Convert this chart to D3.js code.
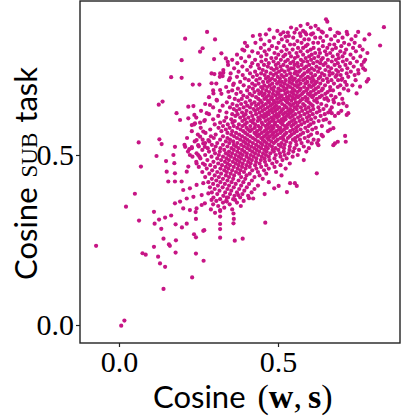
<!DOCTYPE html>
<html>
<head>
<meta charset="utf-8">
<script src="https://cdn.jsdelivr.net/npm/d3@7"></script>
<style>
  body { margin: 0; background: #fff; }
  .tick text { font-family: "Liberation Serif", serif; font-size: 30px; fill: #000; }
  .tick line { stroke: #222; stroke-width: 1.2; }
  .lbl { font-family: Lato, sans-serif; font-size: 31px; fill: #000; }
  .math { font-family: "Liberation Serif", serif; font-size: 34px; }
</style>
</head>
<body>
<svg id="chart"></svg>
<script>
// isolated points read one by one: [cosine(w,s), cosine SUB task]
const outliers = [
  [-0.072,0.233],[0.007,-0.002],[0.017,0.013],[0.022,0.348],[0.050,0.386],[0.063,0.307],[0.062,0.537],[0.069,0.466],
  [0.074,0.211],[0.084,0.207],[0.110,0.333],[0.112,0.298],[0.110,0.230],[0.118,0.497],[0.123,0.201],[0.126,0.310],
  [0.125,0.648],[0.127,0.546],[0.129,0.181],[0.133,0.283],[0.134,0.532],[0.137,0.657],[0.140,0.254],[0.140,0.106],
  [0.145,0.316],[0.145,0.171],[0.148,0.482],[0.150,0.451],[0.155,0.422],[0.157,0.237],[0.160,0.233],[0.164,0.322],
  [0.164,0.729],[0.171,0.500],[0.174,0.476],[0.176,0.524],[0.176,0.446],[0.176,0.422],[0.176,0.358],[0.178,0.296],
  [0.178,0.213],[0.179,0.249],[0.181,0.623],[0.192,0.603],[0.192,0.363],[0.197,0.779],[0.197,0.727],[0.197,0.422],
  [0.198,0.287],[0.202,0.397],[0.202,0.343],[0.208,0.842],[0.208,0.524],[0.213,0.298],[0.213,0.451],[0.213,0.372],
  [0.218,0.642],[0.218,0.608],[0.218,0.466],[0.221,0.517],[0.223,0.500],[0.223,0.402],[0.223,0.338],[0.229,0.588],
  [0.229,0.523],[0.230,0.140],[0.232,0.707],[0.234,0.644],[0.234,0.377],[0.236,0.267],[0.237,0.618],[0.239,0.593],
  [0.241,0.332],[0.242,0.312],[0.242,0.258],[0.242,0.210],[0.244,0.544],[0.244,0.475],[0.244,0.412],[0.244,0.343],
  [0.249,0.529],[0.249,0.500],[0.253,0.707],[0.253,0.495],[0.255,0.804],[0.255,0.595],[0.255,0.554],[0.260,0.382],
  [0.260,0.353],[0.263,0.814],[0.265,0.569],[0.265,0.534],[0.265,0.417],[0.265,0.277],[0.266,0.189],[0.268,0.279],
  [0.270,0.603],[0.270,0.524],[0.270,0.471],[0.270,0.358],[0.276,0.623],[0.277,0.862],[0.281,0.544],[0.281,0.387],
  [0.286,0.647],[0.291,0.740],[0.291,0.711],[0.291,0.368],[0.297,0.681],[0.299,0.782],[0.300,0.738],[0.302,0.840],
  [0.307,0.662],[0.318,0.740],[0.318,0.691],[0.318,0.338],[0.318,0.319],[0.318,0.297],[0.318,0.282],[0.318,0.257],
  [0.322,0.799],[0.326,0.732],[0.328,0.742],[0.336,0.784],[0.339,0.375],[0.339,0.363],[0.342,0.774],[0.344,0.686],
  [0.349,0.726],[0.359,0.706],[0.360,0.328],[0.360,0.299],[0.361,0.312],[0.364,0.248],[0.365,0.368],[0.375,0.382],
  [0.389,0.254],[0.394,0.807],[0.396,0.830],[0.409,0.373],[0.422,0.372],[0.443,0.853],[0.458,0.385],[0.460,0.301],
  [0.473,0.869],[0.488,0.402],[0.502,0.409],[0.517,0.861],[0.524,0.848],[0.528,0.391],[0.538,0.417],[0.553,0.417],
  [0.559,0.409],[0.569,0.858],[0.585,0.861],[0.604,0.855],[0.606,0.534],[0.610,0.858],[0.622,0.446],[0.627,0.544],
  [0.627,0.529],[0.637,0.863],[0.637,0.559],[0.643,0.603],[0.651,0.899],[0.653,0.667],[0.655,0.892],[0.664,0.575],
  [0.664,0.632],[0.664,0.691],[0.669,0.623],[0.674,0.529],[0.674,0.579],[0.674,0.662],[0.679,0.534],[0.685,0.735],
  [0.688,0.539],[0.690,0.623],[0.692,0.858],[0.700,0.721],[0.705,0.652],[0.711,0.556],[0.713,0.539],[0.716,0.618],
  [0.716,0.644],[0.716,0.706],[0.716,0.862],[0.721,0.623],[0.747,0.681],[0.752,0.862],[0.753,0.740],[0.758,0.701],
  [0.768,0.755],[0.770,0.774],[0.774,0.750],[0.779,0.716],[0.784,0.723],[0.787,0.855],[0.821,0.822],[0.833,0.876]
];

// dense cloud, read in thin horizontal strips: [cosine SUB task, [cosine(w,s) ...]]
const coreRows = [
  [0.885,[0.593]],
  [0.880,[0.571,0.618]],
  [0.875,[0.541,0.603]],
  [0.870,[0.558,0.627,0.664]],
  [0.865,[0.498,0.579]],
  [0.860,[0.531,0.552,0.641,0.687]],
  [0.855,[0.462,0.508,0.589,0.606,0.718]],
  [0.850,[0.421,0.534,0.571,0.653,0.679,0.744]],
  [0.845,[0.487,0.548,0.617,0.633,0.703]],
  [0.840,[0.446,0.512,0.583,0.597,0.667,0.731,0.772]],
  [0.835,[0.473,0.529,0.561,0.642,0.689]],
  [0.830,[0.429,0.502,0.574,0.611,0.626,0.708,0.741]],
  [0.825,[0.457,0.538,0.551,0.593,0.662,0.677,0.723]],
  [0.820,[0.403,0.481,0.519,0.587,0.641,0.699,0.757]],
  [0.815,[0.446,0.496,0.563,0.579,0.612,0.655,0.682,0.736]],
  [0.810,[0.388,0.472,0.527,0.546,0.603,0.629,0.671,0.714,0.766]],
  [0.805,[0.419,0.458,0.511,0.571,0.593,0.648,0.696,0.745]],
  [0.800,[0.437,0.489,0.536,0.558,0.617,0.632,0.664,0.709,0.781]],
  [0.795,[0.371,0.464,0.501,0.523,0.579,0.606,0.653,0.688,0.728]],
  [0.790,[0.409,0.447,0.517,0.541,0.562,0.598,0.627,0.672,0.703,0.759]],
  [0.785,[0.384,0.479,0.494,0.553,0.587,0.614,0.641,0.691,0.737]],
  [0.780,[0.356,0.428,0.462,0.509,0.531,0.572,0.604,0.636,0.657,0.682,0.716,0.774]],
  [0.775,[0.397,0.448,0.486,0.523,0.548,0.579,0.592,0.623,0.669,0.704,0.748]],
  [0.770,[0.372,0.419,0.471,0.501,0.539,0.561,0.611,0.633,0.649,0.688,0.727]],
  [0.765,[0.343,0.437,0.456,0.493,0.517,0.552,0.574,0.598,0.643,0.678,0.712,0.763]],
  [0.760,[0.388,0.414,0.468,0.508,0.529,0.563,0.589,0.621,0.657,0.694,0.738]],
  [0.755,[0.362,0.441,0.479,0.496,0.541,0.549,0.582,0.606,0.631,0.667,0.718]],
  [0.750,[0.328,0.403,0.452,0.487,0.512,0.533,0.571,0.597,0.614,0.649,0.683,0.701,0.752]],
  [0.745,[0.376,0.428,0.463,0.503,0.521,0.556,0.566,0.593,0.626,0.661,0.689,0.729]],
  [0.740,[0.351,0.412,0.447,0.477,0.494,0.538,0.552,0.583,0.604,0.638,0.672,0.716]],
  [0.735,[0.389,0.434,0.458,0.486,0.511,0.527,0.561,0.578,0.617,0.646,0.662,0.697,0.741]],
  [0.730,[0.317,0.371,0.421,0.469,0.499,0.518,0.543,0.572,0.594,0.609,0.633,0.681,0.721]],
  [0.725,[0.396,0.443,0.462,0.481,0.506,0.537,0.553,0.586,0.601,0.628,0.654,0.702]],
  [0.720,[0.346,0.408,0.432,0.474,0.491,0.524,0.547,0.566,0.579,0.612,0.641,0.668,0.689,0.744]],
  [0.715,[0.381,0.453,0.468,0.503,0.512,0.536,0.559,0.592,0.606,0.622,0.657,0.711]],
  [0.710,[0.306,0.361,0.419,0.439,0.482,0.497,0.521,0.544,0.571,0.586,0.617,0.633,0.676]],
  [0.705,[0.392,0.428,0.457,0.474,0.509,0.531,0.553,0.563,0.598,0.611,0.648,0.696,0.734]],
  [0.700,[0.337,0.409,0.447,0.466,0.488,0.517,0.538,0.561,0.582,0.604,0.627,0.664,0.688]],
  [0.695,[0.374,0.421,0.452,0.479,0.501,0.527,0.546,0.571,0.593,0.619,0.641,0.707]],
  [0.690,[0.296,0.356,0.403,0.437,0.463,0.486,0.508,0.519,0.552,0.568,0.589,0.612,0.637,0.673,0.721]],
  [0.685,[0.383,0.426,0.448,0.472,0.497,0.531,0.542,0.561,0.581,0.603,0.628,0.656]],
  [0.680,[0.322,0.369,0.411,0.441,0.458,0.484,0.502,0.523,0.548,0.576,0.594,0.619,0.649,0.694]],
  [0.675,[0.391,0.419,0.452,0.471,0.493,0.512,0.537,0.557,0.569,0.601,0.611,0.638,0.667]],
  [0.670,[0.283,0.347,0.403,0.431,0.463,0.481,0.506,0.528,0.546,0.563,0.586,0.608,0.631,0.681]],
  [0.665,[0.364,0.386,0.438,0.457,0.478,0.497,0.517,0.533,0.553,0.577,0.593,0.622,0.646,0.702]],
  [0.660,[0.308,0.376,0.412,0.444,0.468,0.486,0.509,0.524,0.542,0.571,0.589,0.614,0.658]],
  [0.655,[0.339,0.398,0.426,0.449,0.472,0.491,0.501,0.529,0.556,0.566,0.597,0.623,0.676]],
  [0.650,[0.271,0.357,0.384,0.417,0.439,0.462,0.483,0.513,0.536,0.548,0.579,0.603,0.636,0.691]],
  [0.645,[0.326,0.371,0.403,0.431,0.453,0.476,0.494,0.521,0.541,0.561,0.584,0.609,0.652]],
  [0.640,[0.296,0.349,0.392,0.412,0.446,0.468,0.488,0.504,0.527,0.552,0.572,0.596,0.627,0.669]],
  [0.635,[0.361,0.379,0.423,0.437,0.459,0.481,0.498,0.516,0.538,0.559,0.587,0.611,0.643]],
  [0.630,[0.258,0.317,0.369,0.401,0.428,0.451,0.473,0.491,0.511,0.532,0.547,0.576,0.602,0.631,0.699]],
  [0.625,[0.338,0.387,0.414,0.442,0.466,0.483,0.506,0.523,0.541,0.566,0.593,0.622,0.658]],
  [0.620,[0.283,0.356,0.373,0.398,0.431,0.457,0.471,0.496,0.516,0.534,0.554,0.583,0.609,0.647]],
  [0.615,[0.312,0.366,0.392,0.419,0.447,0.463,0.488,0.503,0.528,0.546,0.571,0.598,0.634,0.679]],
  [0.610,[0.243,0.337,0.381,0.407,0.438,0.456,0.479,0.497,0.519,0.538,0.563,0.591,0.617]],
  [0.605,[0.296,0.353,0.396,0.423,0.443,0.469,0.486,0.511,0.524,0.551,0.577,0.604,0.651]],
  [0.600,[0.268,0.331,0.364,0.388,0.414,0.436,0.461,0.481,0.501,0.517,0.544,0.568,0.593,0.628]],
  [0.595,[0.318,0.357,0.402,0.421,0.449,0.473,0.491,0.509,0.536,0.556,0.583,0.612,0.662]],
  [0.590,[0.236,0.301,0.342,0.377,0.396,0.428,0.452,0.468,0.489,0.514,0.531,0.549,0.573,0.602]],
  [0.585,[0.327,0.361,0.388,0.413,0.438,0.461,0.479,0.498,0.522,0.542,0.563,0.596,0.638]],
  [0.580,[0.257,0.313,0.348,0.372,0.401,0.427,0.446,0.471,0.486,0.507,0.528,0.557,0.586,0.619]],
  [0.575,[0.287,0.336,0.382,0.406,0.418,0.443,0.463,0.481,0.503,0.519,0.547,0.571,0.608]],
  [0.570,[0.229,0.322,0.356,0.391,0.412,0.434,0.457,0.476,0.494,0.512,0.538,0.559,0.593,0.657]],
  [0.565,[0.272,0.341,0.368,0.397,0.426,0.449,0.468,0.486,0.507,0.526,0.551,0.579,0.623]],
  [0.560,[0.248,0.304,0.353,0.378,0.404,0.431,0.441,0.463,0.482,0.498,0.521,0.543,0.571,0.604]],
  [0.555,[0.289,0.327,0.362,0.387,0.413,0.436,0.456,0.474,0.491,0.516,0.537,0.562,0.596,0.641]],
  [0.550,[0.214,0.298,0.341,0.371,0.396,0.421,0.447,0.466,0.485,0.508,0.531,0.554,0.584]],
  [0.545,[0.263,0.318,0.349,0.381,0.403,0.428,0.452,0.471,0.499,0.517,0.547,0.569,0.612]],
  [0.540,[0.238,0.284,0.336,0.359,0.391,0.411,0.437,0.458,0.479,0.493,0.526,0.556,0.594]],
  [0.535,[0.271,0.309,0.347,0.372,0.398,0.421,0.446,0.464,0.487,0.511,0.539,0.574,0.623]],
  [0.530,[0.206,0.292,0.327,0.361,0.384,0.406,0.431,0.451,0.473,0.502,0.521,0.558]],
  [0.525,[0.251,0.304,0.341,0.368,0.393,0.416,0.439,0.462,0.481,0.509,0.537,0.581]],
  [0.520,[0.229,0.279,0.319,0.354,0.376,0.403,0.426,0.447,0.468,0.492,0.519,0.552,0.597]],
  [0.515,[0.262,0.298,0.331,0.361,0.387,0.411,0.433,0.457,0.483,0.501,0.536,0.566]],
  [0.510,[0.217,0.283,0.317,0.346,0.372,0.394,0.419,0.441,0.464,0.487,0.518,0.548,0.589]],
  [0.505,[0.244,0.302,0.336,0.356,0.381,0.402,0.428,0.453,0.476,0.506,0.533]],
  [0.500,[0.271,0.314,0.344,0.367,0.389,0.414,0.438,0.462,0.493,0.521,0.562]],
  [0.495,[0.231,0.291,0.327,0.352,0.377,0.401,0.423,0.449,0.471,0.508,0.546]],
  [0.490,[0.256,0.309,0.338,0.363,0.384,0.409,0.432,0.458,0.489,0.527]],
  [0.485,[0.278,0.321,0.346,0.371,0.394,0.418,0.446,0.473,0.514,0.581]],
  [0.480,[0.243,0.297,0.333,0.358,0.379,0.406,0.431,0.459,0.496]],
  [0.475,[0.264,0.312,0.341,0.367,0.389,0.414,0.442,0.482,0.537]],
  [0.470,[0.287,0.324,0.349,0.376,0.401,0.428,0.463,0.508]],
  [0.465,[0.251,0.302,0.336,0.361,0.387,0.411,0.447,0.489]],
  [0.460,[0.276,0.319,0.344,0.373,0.398,0.432,0.471,0.524]],
  [0.455,[0.293,0.331,0.356,0.382,0.419,0.456]],
  [0.450,[0.262,0.309,0.339,0.368,0.393,0.437,0.494]],
  [0.445,[0.284,0.321,0.351,0.378,0.411,0.463]],
  [0.440,[0.301,0.336,0.362,0.401,0.442,0.511]],
  [0.435,[0.271,0.314,0.346,0.384,0.426]],
  [0.430,[0.292,0.327,0.359,0.397,0.452]],
  [0.425,[0.306,0.341,0.376,0.418]],
  [0.420,[0.281,0.319,0.354,0.391,0.471]],
  [0.415,[0.296,0.333,0.367,0.409]],
  [0.410,[0.311,0.346,0.384,0.437]],
  [0.405,[0.286,0.326,0.361,0.402]],
  [0.400,[0.301,0.341,0.378,0.426]],
  [0.395,[0.316,0.353,0.394]],
  [0.390,[0.292,0.334,0.371,0.417]],
  [0.385,[0.309,0.349,0.388]],
  [0.380,[0.328,0.363,0.406]],
  [0.375,[0.297,0.343,0.381]],
  [0.370,[0.318,0.359]],
  [0.365,[0.306,0.337,0.392]],
  [0.360,[0.327,0.371]],
  [0.355,[0.296,0.348]],
  [0.350,[0.312,0.383]],
  [0.345,[0.331]],
  [0.340,[0.289,0.356]],
  [0.335,[0.318]],
  [0.330,[0.302]]
];

const xTicks = [0, 0.5];
const yTicks = [0, 0.5];

const config = {
  width: 404, height: 418,
  margin: {top: 1, right: 4, bottom: 75, left: 80},
  dotColor: '#c71585', dotRadius: 2.1
};

const points = outliers.map(([x, y]) => ({x, y}))
  .concat(coreRows.flatMap(([y, xs]) => xs.map(x => ({x, y}))));

const innerW = config.width - config.margin.left - config.margin.right;
const innerH = config.height - config.margin.top - config.margin.bottom;

const svg = d3.select('#chart')
  .attr('width', config.width)
  .attr('height', config.height);

const chart = svg.append('g')
  .attr('transform', `translate(${config.margin.left},${config.margin.top})`);

// scales: x=0 sits 39px inside the frame, 0.5 at 198px; y=0 at 324px, 0.5 at 154px
const xScale = d3.scaleLinear().domain([-0.1226, 0.8836]).range([0, innerW]);
const yScale = d3.scaleLinear().domain([-0.0529, 0.9529]).range([innerH, 0]);

chart.append('g')
  .selectAll('circle')
  .data(points)
  .join('circle')
  .attr('cx', d => xScale(d.x))
  .attr('cy', d => yScale(d.y))
  .attr('r', config.dotRadius)
  .attr('fill', config.dotColor);

// axes
const xAxis = d3.axisBottom(xScale).tickValues(xTicks).tickFormat(d3.format('.1f')).tickSize(4).tickPadding(4);
const yAxis = d3.axisLeft(yScale).tickValues(yTicks).tickFormat(d3.format('.1f')).tickSize(4).tickPadding(2);

chart.append('g').attr('transform', `translate(0,${innerH})`).call(xAxis)
  .call(g => g.select('.domain').remove());
chart.append('g').call(yAxis)
  .call(g => g.select('.domain').remove());

// frame
chart.append('rect')
  .attr('width', innerW).attr('height', innerH)
  .attr('fill', 'none').attr('stroke', '#222').attr('stroke-width', 1.4);

// x label
const xl = svg.append('text').attr('class', 'lbl').attr('x', 153).attr('y', 408);
xl.append('tspan').text('Cosine');
xl.append('tspan').attr('class', 'math').attr('dx', 12).text('(');
xl.append('tspan').attr('class', 'math').attr('font-weight', 'bold').text('w');
xl.append('tspan').attr('class', 'math').text(',');
xl.append('tspan').attr('class', 'math').attr('font-weight', 'bold').attr('dx', 6).text('s');
xl.append('tspan').attr('class', 'math').text(')');

// y label
const yl = svg.append('text').attr('class', 'lbl')
  .attr('transform', 'translate(37,280) rotate(-90)');
yl.append('tspan').text('Cosine');
yl.append('tspan').attr('font-family', '"Liberation Serif", serif').attr('font-size', '23px').attr('dx', 10).text('SUB');
yl.append('tspan').attr('dx', 10).text('task');
</script>
</body>
</html>
